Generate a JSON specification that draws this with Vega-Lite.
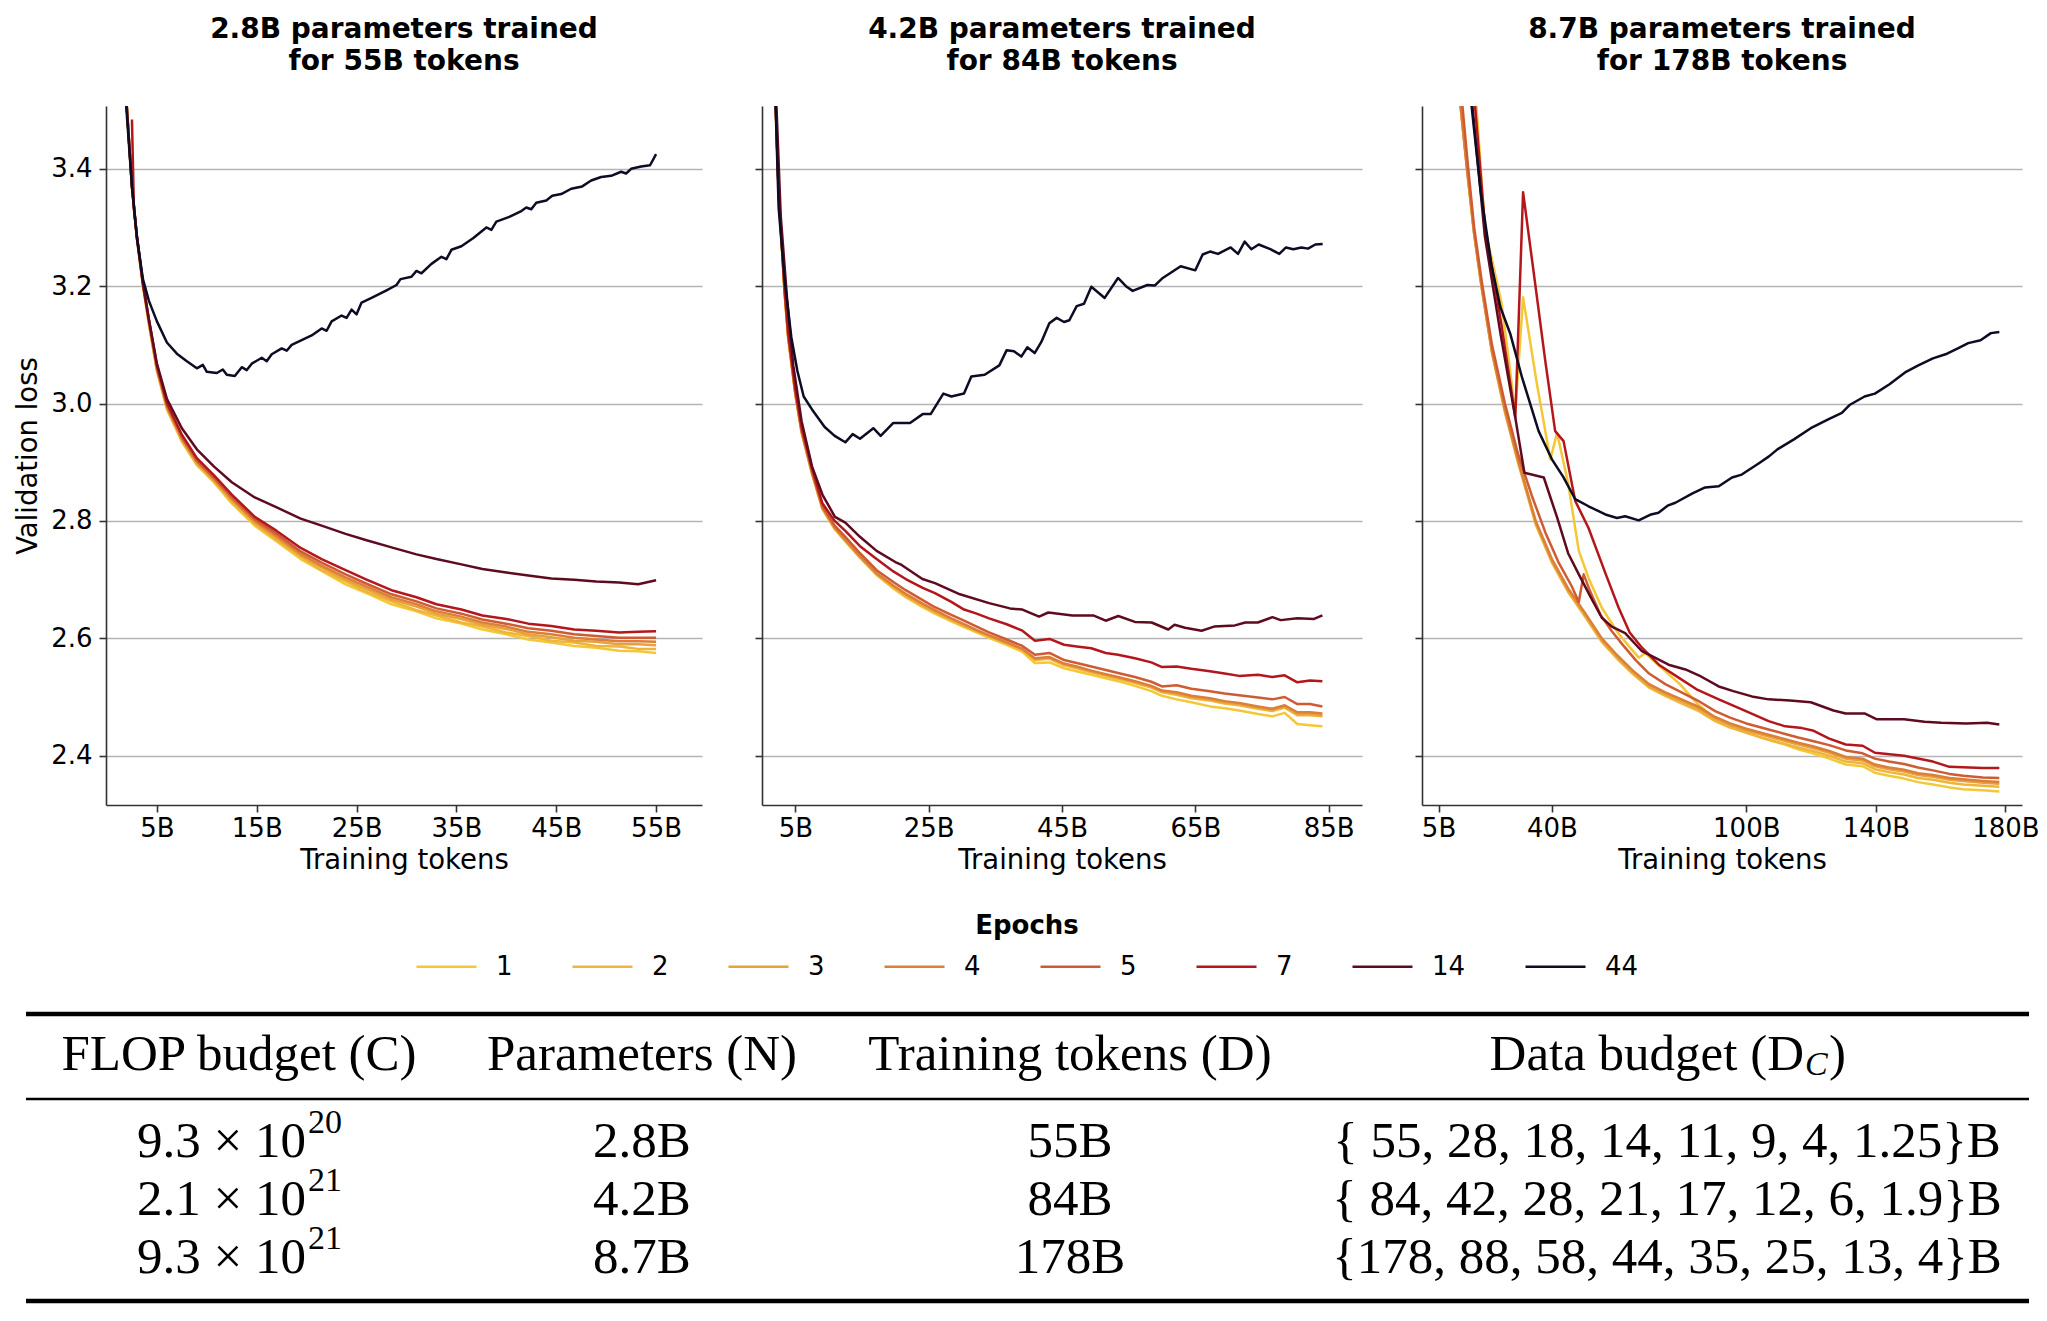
{
"$schema": "https://vega.github.io/schema/vega-lite/v6.json",
"background": "white",
"padding": {"left": 14, "top": 16, "right": 10, "bottom": 6},
"config": {
 "font": "DejaVu Sans",
 "view": {"stroke": null},
 "axis": {"labelFontSize": 26, "titleFontSize": 27.5, "titleFontWeight": "normal", "labelColor": "#000000", "titleColor": "#000000", "domainColor": "#333333", "domainWidth": 1.6, "tickColor": "#333333", "tickWidth": 1.6, "tickSize": 7, "labelPadding": 7, "titlePadding": 8, "gridColor": "#b4b4b4", "gridWidth": 1.3},
 "axisX": {"grid": false, "labelPadding": 3, "titlePadding": 5},
 "axisY": {"grid": true},
 "title": {"fontSize": 28, "fontWeight": "bold", "lineHeight": 32, "offset": 30, "frame": "group", "anchor": "middle", "color": "#000000"},
 "legend": {"orient": "bottom", "direction": "horizontal", "titleAnchor": "middle", "titleFontSize": 26, "titleFontWeight": "bold", "titleColor": "#000000", "titlePadding": -4, "labelFontSize": 26, "labelColor": "#000000", "symbolType": "stroke", "symbolSize": 3600, "symbolStrokeWidth": 2.5, "labelOffset": 18, "columnPadding": 54, "offset": 39, "layout": {"bottom": {"anchor": "middle"}}}
},
"datasets": {
"p1": [
{"epochs":"1","tokens":1.7,"loss":3.58},{"epochs":"1","tokens":2.5,"loss":3.37},{"epochs":"1","tokens":3.0,"loss":3.28},{"epochs":"1","tokens":3.6,"loss":3.2},{"epochs":"1","tokens":4.2,"loss":3.135},{"epochs":"1","tokens":5.0,"loss":3.055},{"epochs":"1","tokens":6.0,"loss":2.99},{"epochs":"1","tokens":7.5,"loss":2.935},{"epochs":"1","tokens":9.0,"loss":2.895},{"epochs":"1","tokens":10.7,"loss":2.866},{"epochs":"1","tokens":12.5,"loss":2.83},{"epochs":"1","tokens":14.8,"loss":2.792},{"epochs":"1","tokens":17.0,"loss":2.765},{"epochs":"1","tokens":19.4,"loss":2.735},{"epochs":"1","tokens":21.5,"loss":2.715},{"epochs":"1","tokens":23.9,"loss":2.692},{"epochs":"1","tokens":26.0,"loss":2.677},{"epochs":"1","tokens":28.5,"loss":2.658},{"epochs":"1","tokens":31.0,"loss":2.646},{"epochs":"1","tokens":33.0,"loss":2.634},{"epochs":"1","tokens":35.5,"loss":2.625},{"epochs":"1","tokens":37.6,"loss":2.615},{"epochs":"1","tokens":40.0,"loss":2.607},{"epochs":"1","tokens":42.2,"loss":2.598},{"epochs":"1","tokens":44.5,"loss":2.593},{"epochs":"1","tokens":46.8,"loss":2.587},{"epochs":"1","tokens":49.0,"loss":2.584},{"epochs":"1","tokens":51.3,"loss":2.579},{"epochs":"1","tokens":53.2,"loss":2.578},{"epochs":"1","tokens":55.0,"loss":2.575},
{"epochs":"2","tokens":1.7,"loss":3.58},{"epochs":"2","tokens":2.5,"loss":3.37},{"epochs":"2","tokens":3.0,"loss":3.281},{"epochs":"2","tokens":3.6,"loss":3.201},{"epochs":"2","tokens":4.2,"loss":3.136},{"epochs":"2","tokens":5.0,"loss":3.057},{"epochs":"2","tokens":6.0,"loss":2.992},{"epochs":"2","tokens":7.5,"loss":2.937},{"epochs":"2","tokens":9.0,"loss":2.897},{"epochs":"2","tokens":10.7,"loss":2.868},{"epochs":"2","tokens":12.5,"loss":2.833},{"epochs":"2","tokens":14.8,"loss":2.795},{"epochs":"2","tokens":17.0,"loss":2.767},{"epochs":"2","tokens":19.4,"loss":2.739},{"epochs":"2","tokens":21.5,"loss":2.716},{"epochs":"2","tokens":23.9,"loss":2.697},{"epochs":"2","tokens":26.0,"loss":2.679},{"epochs":"2","tokens":28.5,"loss":2.663},{"epochs":"2","tokens":31.0,"loss":2.648},{"epochs":"2","tokens":33.0,"loss":2.639},{"epochs":"2","tokens":35.5,"loss":2.627},{"epochs":"2","tokens":37.6,"loss":2.62},{"epochs":"2","tokens":40.0,"loss":2.61},{"epochs":"2","tokens":42.2,"loss":2.604},{"epochs":"2","tokens":44.5,"loss":2.596},{"epochs":"2","tokens":46.8,"loss":2.593},{"epochs":"2","tokens":49.0,"loss":2.587},{"epochs":"2","tokens":51.3,"loss":2.586},{"epochs":"2","tokens":53.2,"loss":2.582},{"epochs":"2","tokens":55.0,"loss":2.582},
{"epochs":"3","tokens":1.7,"loss":3.58},{"epochs":"3","tokens":2.5,"loss":3.37},{"epochs":"3","tokens":3.0,"loss":3.282},{"epochs":"3","tokens":3.6,"loss":3.202},{"epochs":"3","tokens":4.2,"loss":3.138},{"epochs":"3","tokens":5.0,"loss":3.058},{"epochs":"3","tokens":6.0,"loss":2.994},{"epochs":"3","tokens":7.5,"loss":2.939},{"epochs":"3","tokens":9.0,"loss":2.899},{"epochs":"3","tokens":10.7,"loss":2.87},{"epochs":"3","tokens":12.5,"loss":2.836},{"epochs":"3","tokens":14.8,"loss":2.797},{"epochs":"3","tokens":17.0,"loss":2.771},{"epochs":"3","tokens":19.4,"loss":2.741},{"epochs":"3","tokens":21.5,"loss":2.721},{"epochs":"3","tokens":23.9,"loss":2.7},{"epochs":"3","tokens":26.0,"loss":2.684},{"epochs":"3","tokens":28.5,"loss":2.666},{"epochs":"3","tokens":31.0,"loss":2.654},{"epochs":"3","tokens":33.0,"loss":2.642},{"epochs":"3","tokens":35.5,"loss":2.633},{"epochs":"3","tokens":37.6,"loss":2.623},{"epochs":"3","tokens":40.0,"loss":2.616},{"epochs":"3","tokens":42.2,"loss":2.607},{"epochs":"3","tokens":44.5,"loss":2.602},{"epochs":"3","tokens":46.8,"loss":2.596},{"epochs":"3","tokens":49.0,"loss":2.594},{"epochs":"3","tokens":51.3,"loss":2.59},{"epochs":"3","tokens":53.2,"loss":2.59},{"epochs":"3","tokens":55.0,"loss":2.588},
{"epochs":"4","tokens":1.7,"loss":3.58},{"epochs":"4","tokens":2.5,"loss":3.37},{"epochs":"4","tokens":3.0,"loss":3.282},{"epochs":"4","tokens":3.6,"loss":3.203},{"epochs":"4","tokens":4.2,"loss":3.139},{"epochs":"4","tokens":5.0,"loss":3.06},{"epochs":"4","tokens":6.0,"loss":2.995},{"epochs":"4","tokens":7.5,"loss":2.941},{"epochs":"4","tokens":9.0,"loss":2.901},{"epochs":"4","tokens":10.7,"loss":2.872},{"epochs":"4","tokens":12.5,"loss":2.838},{"epochs":"4","tokens":14.8,"loss":2.8},{"epochs":"4","tokens":17.0,"loss":2.774},{"epochs":"4","tokens":19.4,"loss":2.744},{"epochs":"4","tokens":21.5,"loss":2.724},{"epochs":"4","tokens":23.9,"loss":2.704},{"epochs":"4","tokens":26.0,"loss":2.688},{"epochs":"4","tokens":28.5,"loss":2.67},{"epochs":"4","tokens":31.0,"loss":2.658},{"epochs":"4","tokens":33.0,"loss":2.646},{"epochs":"4","tokens":35.5,"loss":2.637},{"epochs":"4","tokens":37.6,"loss":2.627},{"epochs":"4","tokens":40.0,"loss":2.62},{"epochs":"4","tokens":42.2,"loss":2.611},{"epochs":"4","tokens":44.5,"loss":2.607},{"epochs":"4","tokens":46.8,"loss":2.601},{"epochs":"4","tokens":49.0,"loss":2.598},{"epochs":"4","tokens":51.3,"loss":2.595},{"epochs":"4","tokens":53.2,"loss":2.595},{"epochs":"4","tokens":55.0,"loss":2.594},
{"epochs":"5","tokens":1.7,"loss":3.58},{"epochs":"5","tokens":2.5,"loss":3.37},{"epochs":"5","tokens":3.0,"loss":3.283},{"epochs":"5","tokens":3.6,"loss":3.204},{"epochs":"5","tokens":4.2,"loss":3.141},{"epochs":"5","tokens":5.0,"loss":3.062},{"epochs":"5","tokens":6.0,"loss":2.998},{"epochs":"5","tokens":7.5,"loss":2.943},{"epochs":"5","tokens":9.0,"loss":2.903},{"epochs":"5","tokens":10.7,"loss":2.874},{"epochs":"5","tokens":12.5,"loss":2.841},{"epochs":"5","tokens":14.8,"loss":2.803},{"epochs":"5","tokens":17.0,"loss":2.778},{"epochs":"5","tokens":19.4,"loss":2.748},{"epochs":"5","tokens":21.5,"loss":2.729},{"epochs":"5","tokens":23.9,"loss":2.709},{"epochs":"5","tokens":26.0,"loss":2.693},{"epochs":"5","tokens":28.5,"loss":2.675},{"epochs":"5","tokens":31.0,"loss":2.663},{"epochs":"5","tokens":33.0,"loss":2.651},{"epochs":"5","tokens":35.5,"loss":2.642},{"epochs":"5","tokens":37.6,"loss":2.632},{"epochs":"5","tokens":40.0,"loss":2.625},{"epochs":"5","tokens":42.2,"loss":2.617},{"epochs":"5","tokens":44.5,"loss":2.613},{"epochs":"5","tokens":46.8,"loss":2.607},{"epochs":"5","tokens":49.0,"loss":2.604},{"epochs":"5","tokens":51.3,"loss":2.601},{"epochs":"5","tokens":53.2,"loss":2.601},{"epochs":"5","tokens":55.0,"loss":2.601},
{"epochs":"7","tokens":2.5,"loss":3.484},{"epochs":"7","tokens":2.7,"loss":3.33},{"epochs":"7","tokens":3.0,"loss":3.285},{"epochs":"7","tokens":3.6,"loss":3.206},{"epochs":"7","tokens":4.2,"loss":3.143},{"epochs":"7","tokens":5.0,"loss":3.065},{"epochs":"7","tokens":6.0,"loss":3.001},{"epochs":"7","tokens":7.5,"loss":2.947},{"epochs":"7","tokens":9.0,"loss":2.907},{"epochs":"7","tokens":10.7,"loss":2.878},{"epochs":"7","tokens":12.5,"loss":2.845},{"epochs":"7","tokens":14.8,"loss":2.807},{"epochs":"7","tokens":17.0,"loss":2.783},{"epochs":"7","tokens":19.4,"loss":2.754},{"epochs":"7","tokens":21.5,"loss":2.735},{"epochs":"7","tokens":23.9,"loss":2.716},{"epochs":"7","tokens":26.0,"loss":2.7},{"epochs":"7","tokens":28.5,"loss":2.682},{"epochs":"7","tokens":31.0,"loss":2.67},{"epochs":"7","tokens":33.0,"loss":2.658},{"epochs":"7","tokens":35.5,"loss":2.649},{"epochs":"7","tokens":37.6,"loss":2.639},{"epochs":"7","tokens":40.0,"loss":2.633},{"epochs":"7","tokens":42.2,"loss":2.625},{"epochs":"7","tokens":44.5,"loss":2.621},{"epochs":"7","tokens":46.8,"loss":2.615},{"epochs":"7","tokens":49.0,"loss":2.613},{"epochs":"7","tokens":51.3,"loss":2.61},{"epochs":"7","tokens":53.2,"loss":2.611},{"epochs":"7","tokens":55.0,"loss":2.612},
{"epochs":"14","tokens":1.7,"loss":3.58},{"epochs":"14","tokens":2.5,"loss":3.37},{"epochs":"14","tokens":3.0,"loss":3.285},{"epochs":"14","tokens":3.6,"loss":3.205},{"epochs":"14","tokens":4.2,"loss":3.143},{"epochs":"14","tokens":5.0,"loss":3.068},{"epochs":"14","tokens":6.0,"loss":3.008},{"epochs":"14","tokens":7.5,"loss":2.958},{"epochs":"14","tokens":9.0,"loss":2.922},{"epochs":"14","tokens":10.7,"loss":2.893},{"epochs":"14","tokens":12.5,"loss":2.866},{"epochs":"14","tokens":14.8,"loss":2.84},{"epochs":"14","tokens":17.0,"loss":2.823},{"epochs":"14","tokens":19.4,"loss":2.804},{"epochs":"14","tokens":21.5,"loss":2.792},{"epochs":"14","tokens":23.9,"loss":2.778},{"epochs":"14","tokens":26.0,"loss":2.767},{"epochs":"14","tokens":28.5,"loss":2.755},{"epochs":"14","tokens":31.0,"loss":2.743},{"epochs":"14","tokens":33.0,"loss":2.735},{"epochs":"14","tokens":35.5,"loss":2.726},{"epochs":"14","tokens":37.6,"loss":2.718},{"epochs":"14","tokens":40.0,"loss":2.712},{"epochs":"14","tokens":42.2,"loss":2.707},{"epochs":"14","tokens":44.5,"loss":2.702},{"epochs":"14","tokens":46.8,"loss":2.7},{"epochs":"14","tokens":49.0,"loss":2.697},{"epochs":"14","tokens":51.3,"loss":2.695},{"epochs":"14","tokens":53.2,"loss":2.692},{"epochs":"14","tokens":55.0,"loss":2.699},
{"epochs":"44","tokens":1.7,"loss":3.56},{"epochs":"44","tokens":2.5,"loss":3.37},{"epochs":"44","tokens":3.0,"loss":3.282},{"epochs":"44","tokens":3.6,"loss":3.212},{"epochs":"44","tokens":4.2,"loss":3.175},{"epochs":"44","tokens":5.0,"loss":3.14},{"epochs":"44","tokens":6.0,"loss":3.104},{"epochs":"44","tokens":7.0,"loss":3.085},{"epochs":"44","tokens":8.0,"loss":3.072},{"epochs":"44","tokens":9.0,"loss":3.06},{"epochs":"44","tokens":9.6,"loss":3.066},{"epochs":"44","tokens":10.0,"loss":3.054},{"epochs":"44","tokens":11.0,"loss":3.052},{"epochs":"44","tokens":11.6,"loss":3.058},{"epochs":"44","tokens":12.0,"loss":3.049},{"epochs":"44","tokens":12.8,"loss":3.047},{"epochs":"44","tokens":13.5,"loss":3.062},{"epochs":"44","tokens":14.0,"loss":3.057},{"epochs":"44","tokens":14.5,"loss":3.068},{"epochs":"44","tokens":15.5,"loss":3.078},{"epochs":"44","tokens":16.0,"loss":3.072},{"epochs":"44","tokens":16.5,"loss":3.084},{"epochs":"44","tokens":17.5,"loss":3.094},{"epochs":"44","tokens":18.0,"loss":3.09},{"epochs":"44","tokens":18.5,"loss":3.1},{"epochs":"44","tokens":19.5,"loss":3.108},{"epochs":"44","tokens":20.5,"loss":3.116},{"epochs":"44","tokens":21.5,"loss":3.128},{"epochs":"44","tokens":22.0,"loss":3.124},{"epochs":"44","tokens":22.5,"loss":3.14},{"epochs":"44","tokens":23.5,"loss":3.15},{"epochs":"44","tokens":24.0,"loss":3.146},{"epochs":"44","tokens":24.5,"loss":3.16},{"epochs":"44","tokens":25.0,"loss":3.152},{"epochs":"44","tokens":25.5,"loss":3.172},{"epochs":"44","tokens":26.5,"loss":3.18},{"epochs":"44","tokens":28.0,"loss":3.193},{"epochs":"44","tokens":29.0,"loss":3.202},{"epochs":"44","tokens":29.4,"loss":3.212},{"epochs":"44","tokens":30.5,"loss":3.216},{"epochs":"44","tokens":31.0,"loss":3.226},{"epochs":"44","tokens":31.5,"loss":3.222},{"epochs":"44","tokens":32.5,"loss":3.238},{"epochs":"44","tokens":33.5,"loss":3.25},{"epochs":"44","tokens":34.0,"loss":3.246},{"epochs":"44","tokens":34.5,"loss":3.262},{"epochs":"44","tokens":35.5,"loss":3.268},{"epochs":"44","tokens":36.7,"loss":3.282},{"epochs":"44","tokens":38.0,"loss":3.3},{"epochs":"44","tokens":38.5,"loss":3.296},{"epochs":"44","tokens":39.0,"loss":3.31},{"epochs":"44","tokens":40.3,"loss":3.318},{"epochs":"44","tokens":41.5,"loss":3.328},{"epochs":"44","tokens":42.0,"loss":3.334},{"epochs":"44","tokens":42.5,"loss":3.331},{"epochs":"44","tokens":43.0,"loss":3.342},{"epochs":"44","tokens":44.0,"loss":3.346},{"epochs":"44","tokens":44.6,"loss":3.354},{"epochs":"44","tokens":45.5,"loss":3.357},{"epochs":"44","tokens":46.5,"loss":3.366},{"epochs":"44","tokens":47.6,"loss":3.37},{"epochs":"44","tokens":48.5,"loss":3.38},{"epochs":"44","tokens":49.5,"loss":3.386},{"epochs":"44","tokens":50.5,"loss":3.388},{"epochs":"44","tokens":51.5,"loss":3.395},{"epochs":"44","tokens":52.0,"loss":3.392},{"epochs":"44","tokens":52.5,"loss":3.4},{"epochs":"44","tokens":53.5,"loss":3.404},{"epochs":"44","tokens":54.4,"loss":3.406},{"epochs":"44","tokens":55.0,"loss":3.425}
],
"p2": [
{"epochs":"1","tokens":1.9,"loss":3.56},{"epochs":"1","tokens":2.5,"loss":3.355},{"epochs":"1","tokens":3.4,"loss":3.185},{"epochs":"1","tokens":3.94,"loss":3.11},{"epochs":"1","tokens":5.0,"loss":3.015},{"epochs":"1","tokens":5.94,"loss":2.95},{"epochs":"1","tokens":7.5,"loss":2.88},{"epochs":"1","tokens":9.06,"loss":2.82},{"epochs":"1","tokens":10.9,"loss":2.786},{"epochs":"1","tokens":12.5,"loss":2.765},{"epochs":"1","tokens":14.7,"loss":2.737},{"epochs":"1","tokens":17.19,"loss":2.708},{"epochs":"1","tokens":19.7,"loss":2.685},{"epochs":"1","tokens":21.56,"loss":2.67},{"epochs":"1","tokens":24.1,"loss":2.653},{"epochs":"1","tokens":25.94,"loss":2.642},{"epochs":"1","tokens":28.4,"loss":2.629},{"epochs":"1","tokens":30.31,"loss":2.619},{"epochs":"1","tokens":32.2,"loss":2.61},{"epochs":"1","tokens":34.06,"loss":2.601},{"epochs":"1","tokens":36.7,"loss":2.589},{"epochs":"1","tokens":39.06,"loss":2.577},{"epochs":"1","tokens":40.94,"loss":2.558},{"epochs":"1","tokens":43.13,"loss":2.559},{"epochs":"1","tokens":45.31,"loss":2.549},{"epochs":"1","tokens":47.2,"loss":2.544},{"epochs":"1","tokens":49.4,"loss":2.538},{"epochs":"1","tokens":51.56,"loss":2.532},{"epochs":"1","tokens":53.4,"loss":2.527},{"epochs":"1","tokens":55.94,"loss":2.519},{"epochs":"1","tokens":58.4,"loss":2.51},{"epochs":"1","tokens":60.0,"loss":2.502},{"epochs":"1","tokens":62.19,"loss":2.496},{"epochs":"1","tokens":64.4,"loss":2.491},{"epochs":"1","tokens":67.19,"loss":2.484},{"epochs":"1","tokens":69.4,"loss":2.481},{"epochs":"1","tokens":71.56,"loss":2.477},{"epochs":"1","tokens":74.4,"loss":2.471},{"epochs":"1","tokens":76.56,"loss":2.467},{"epochs":"1","tokens":78.4,"loss":2.473},{"epochs":"1","tokens":80.3,"loss":2.454},{"epochs":"1","tokens":82.2,"loss":2.452},{"epochs":"1","tokens":84.06,"loss":2.45},
{"epochs":"2","tokens":1.9,"loss":3.56},{"epochs":"2","tokens":2.5,"loss":3.358},{"epochs":"2","tokens":3.4,"loss":3.187},{"epochs":"2","tokens":3.94,"loss":3.111},{"epochs":"2","tokens":5.0,"loss":3.016},{"epochs":"2","tokens":5.94,"loss":2.951},{"epochs":"2","tokens":7.5,"loss":2.881},{"epochs":"2","tokens":9.06,"loss":2.821},{"epochs":"2","tokens":10.9,"loss":2.787},{"epochs":"2","tokens":12.5,"loss":2.766},{"epochs":"2","tokens":14.7,"loss":2.738},{"epochs":"2","tokens":17.19,"loss":2.709},{"epochs":"2","tokens":19.7,"loss":2.687},{"epochs":"2","tokens":21.56,"loss":2.672},{"epochs":"2","tokens":24.1,"loss":2.655},{"epochs":"2","tokens":25.94,"loss":2.644},{"epochs":"2","tokens":28.4,"loss":2.631},{"epochs":"2","tokens":30.31,"loss":2.621},{"epochs":"2","tokens":32.2,"loss":2.612},{"epochs":"2","tokens":34.06,"loss":2.603},{"epochs":"2","tokens":36.7,"loss":2.591},{"epochs":"2","tokens":39.06,"loss":2.58},{"epochs":"2","tokens":40.94,"loss":2.563},{"epochs":"2","tokens":43.13,"loss":2.565},{"epochs":"2","tokens":45.31,"loss":2.554},{"epochs":"2","tokens":47.2,"loss":2.549},{"epochs":"2","tokens":49.4,"loss":2.542},{"epochs":"2","tokens":51.56,"loss":2.536},{"epochs":"2","tokens":53.4,"loss":2.531},{"epochs":"2","tokens":55.94,"loss":2.524},{"epochs":"2","tokens":58.4,"loss":2.516},{"epochs":"2","tokens":60.0,"loss":2.508},{"epochs":"2","tokens":62.19,"loss":2.504},{"epochs":"2","tokens":64.4,"loss":2.498},{"epochs":"2","tokens":67.19,"loss":2.494},{"epochs":"2","tokens":69.4,"loss":2.489},{"epochs":"2","tokens":71.56,"loss":2.486},{"epochs":"2","tokens":74.4,"loss":2.48},{"epochs":"2","tokens":76.56,"loss":2.476},{"epochs":"2","tokens":78.4,"loss":2.482},{"epochs":"2","tokens":80.3,"loss":2.469},{"epochs":"2","tokens":82.2,"loss":2.469},{"epochs":"2","tokens":84.06,"loss":2.467},
{"epochs":"3","tokens":1.9,"loss":3.56},{"epochs":"3","tokens":2.5,"loss":3.359},{"epochs":"3","tokens":3.4,"loss":3.188},{"epochs":"3","tokens":3.94,"loss":3.112},{"epochs":"3","tokens":5.0,"loss":3.017},{"epochs":"3","tokens":5.94,"loss":2.952},{"epochs":"3","tokens":7.5,"loss":2.882},{"epochs":"3","tokens":9.06,"loss":2.822},{"epochs":"3","tokens":10.9,"loss":2.788},{"epochs":"3","tokens":12.5,"loss":2.767},{"epochs":"3","tokens":14.7,"loss":2.739},{"epochs":"3","tokens":17.19,"loss":2.71},{"epochs":"3","tokens":19.7,"loss":2.689},{"epochs":"3","tokens":21.56,"loss":2.674},{"epochs":"3","tokens":24.1,"loss":2.657},{"epochs":"3","tokens":25.94,"loss":2.646},{"epochs":"3","tokens":28.4,"loss":2.633},{"epochs":"3","tokens":30.31,"loss":2.623},{"epochs":"3","tokens":32.2,"loss":2.614},{"epochs":"3","tokens":34.06,"loss":2.605},{"epochs":"3","tokens":36.7,"loss":2.593},{"epochs":"3","tokens":39.06,"loss":2.582},{"epochs":"3","tokens":40.94,"loss":2.565},{"epochs":"3","tokens":43.13,"loss":2.567},{"epochs":"3","tokens":45.31,"loss":2.556},{"epochs":"3","tokens":47.2,"loss":2.551},{"epochs":"3","tokens":49.4,"loss":2.544},{"epochs":"3","tokens":51.56,"loss":2.538},{"epochs":"3","tokens":53.4,"loss":2.533},{"epochs":"3","tokens":55.94,"loss":2.526},{"epochs":"3","tokens":58.4,"loss":2.518},{"epochs":"3","tokens":60.0,"loss":2.51},{"epochs":"3","tokens":62.19,"loss":2.506},{"epochs":"3","tokens":64.4,"loss":2.5},{"epochs":"3","tokens":67.19,"loss":2.496},{"epochs":"3","tokens":69.4,"loss":2.491},{"epochs":"3","tokens":71.56,"loss":2.488},{"epochs":"3","tokens":74.4,"loss":2.482},{"epochs":"3","tokens":76.56,"loss":2.478},{"epochs":"3","tokens":78.4,"loss":2.484},{"epochs":"3","tokens":80.3,"loss":2.471},{"epochs":"3","tokens":82.2,"loss":2.471},{"epochs":"3","tokens":84.06,"loss":2.469},
{"epochs":"4","tokens":1.9,"loss":3.56},{"epochs":"4","tokens":2.5,"loss":3.36},{"epochs":"4","tokens":3.4,"loss":3.19},{"epochs":"4","tokens":3.94,"loss":3.114},{"epochs":"4","tokens":5.0,"loss":3.018},{"epochs":"4","tokens":5.94,"loss":2.953},{"epochs":"4","tokens":7.5,"loss":2.883},{"epochs":"4","tokens":9.06,"loss":2.823},{"epochs":"4","tokens":10.9,"loss":2.789},{"epochs":"4","tokens":12.5,"loss":2.768},{"epochs":"4","tokens":14.7,"loss":2.74},{"epochs":"4","tokens":17.19,"loss":2.711},{"epochs":"4","tokens":19.7,"loss":2.69},{"epochs":"4","tokens":21.56,"loss":2.676},{"epochs":"4","tokens":24.1,"loss":2.659},{"epochs":"4","tokens":25.94,"loss":2.648},{"epochs":"4","tokens":28.4,"loss":2.634},{"epochs":"4","tokens":30.31,"loss":2.624},{"epochs":"4","tokens":32.2,"loss":2.614},{"epochs":"4","tokens":34.06,"loss":2.605},{"epochs":"4","tokens":36.7,"loss":2.593},{"epochs":"4","tokens":39.06,"loss":2.582},{"epochs":"4","tokens":40.94,"loss":2.566},{"epochs":"4","tokens":43.13,"loss":2.568},{"epochs":"4","tokens":45.31,"loss":2.557},{"epochs":"4","tokens":47.2,"loss":2.552},{"epochs":"4","tokens":49.4,"loss":2.545},{"epochs":"4","tokens":51.56,"loss":2.539},{"epochs":"4","tokens":53.4,"loss":2.534},{"epochs":"4","tokens":55.94,"loss":2.527},{"epochs":"4","tokens":58.4,"loss":2.519},{"epochs":"4","tokens":60.0,"loss":2.511},{"epochs":"4","tokens":62.19,"loss":2.508},{"epochs":"4","tokens":64.4,"loss":2.502},{"epochs":"4","tokens":67.19,"loss":2.498},{"epochs":"4","tokens":69.4,"loss":2.493},{"epochs":"4","tokens":71.56,"loss":2.49},{"epochs":"4","tokens":74.4,"loss":2.484},{"epochs":"4","tokens":76.56,"loss":2.48},{"epochs":"4","tokens":78.4,"loss":2.486},{"epochs":"4","tokens":80.3,"loss":2.474},{"epochs":"4","tokens":82.2,"loss":2.474},{"epochs":"4","tokens":84.06,"loss":2.472},
{"epochs":"5","tokens":1.9,"loss":3.56},{"epochs":"5","tokens":2.5,"loss":3.36},{"epochs":"5","tokens":3.4,"loss":3.192},{"epochs":"5","tokens":3.94,"loss":3.115},{"epochs":"5","tokens":5.0,"loss":3.02},{"epochs":"5","tokens":5.94,"loss":2.955},{"epochs":"5","tokens":7.5,"loss":2.885},{"epochs":"5","tokens":9.06,"loss":2.825},{"epochs":"5","tokens":10.9,"loss":2.792},{"epochs":"5","tokens":12.5,"loss":2.773},{"epochs":"5","tokens":14.7,"loss":2.745},{"epochs":"5","tokens":17.19,"loss":2.716},{"epochs":"5","tokens":19.7,"loss":2.696},{"epochs":"5","tokens":21.56,"loss":2.682},{"epochs":"5","tokens":24.1,"loss":2.665},{"epochs":"5","tokens":25.94,"loss":2.653},{"epochs":"5","tokens":28.4,"loss":2.64},{"epochs":"5","tokens":30.31,"loss":2.63},{"epochs":"5","tokens":32.2,"loss":2.62},{"epochs":"5","tokens":34.06,"loss":2.61},{"epochs":"5","tokens":36.7,"loss":2.598},{"epochs":"5","tokens":39.06,"loss":2.587},{"epochs":"5","tokens":40.94,"loss":2.572},{"epochs":"5","tokens":43.13,"loss":2.575},{"epochs":"5","tokens":45.31,"loss":2.563},{"epochs":"5","tokens":47.2,"loss":2.558},{"epochs":"5","tokens":49.4,"loss":2.552},{"epochs":"5","tokens":51.56,"loss":2.546},{"epochs":"5","tokens":53.4,"loss":2.541},{"epochs":"5","tokens":55.94,"loss":2.534},{"epochs":"5","tokens":58.4,"loss":2.526},{"epochs":"5","tokens":60.0,"loss":2.518},{"epochs":"5","tokens":62.19,"loss":2.52},{"epochs":"5","tokens":64.4,"loss":2.514},{"epochs":"5","tokens":67.19,"loss":2.51},{"epochs":"5","tokens":69.4,"loss":2.506},{"epochs":"5","tokens":71.56,"loss":2.503},{"epochs":"5","tokens":74.4,"loss":2.499},{"epochs":"5","tokens":76.56,"loss":2.496},{"epochs":"5","tokens":78.4,"loss":2.5},{"epochs":"5","tokens":80.3,"loss":2.488},{"epochs":"5","tokens":82.2,"loss":2.488},{"epochs":"5","tokens":84.06,"loss":2.484},
{"epochs":"7","tokens":1.9,"loss":3.56},{"epochs":"7","tokens":2.5,"loss":3.36},{"epochs":"7","tokens":3.4,"loss":3.195},{"epochs":"7","tokens":3.94,"loss":3.12},{"epochs":"7","tokens":5.0,"loss":3.025},{"epochs":"7","tokens":5.94,"loss":2.96},{"epochs":"7","tokens":7.5,"loss":2.89},{"epochs":"7","tokens":9.06,"loss":2.83},{"epochs":"7","tokens":10.9,"loss":2.8},{"epochs":"7","tokens":12.5,"loss":2.783},{"epochs":"7","tokens":14.7,"loss":2.757},{"epochs":"7","tokens":17.19,"loss":2.735},{"epochs":"7","tokens":19.7,"loss":2.714},{"epochs":"7","tokens":21.56,"loss":2.701},{"epochs":"7","tokens":24.1,"loss":2.686},{"epochs":"7","tokens":25.94,"loss":2.677},{"epochs":"7","tokens":28.4,"loss":2.662},{"epochs":"7","tokens":30.31,"loss":2.649},{"epochs":"7","tokens":32.2,"loss":2.642},{"epochs":"7","tokens":34.06,"loss":2.634},{"epochs":"7","tokens":36.7,"loss":2.624},{"epochs":"7","tokens":39.06,"loss":2.613},{"epochs":"7","tokens":40.94,"loss":2.596},{"epochs":"7","tokens":43.13,"loss":2.599},{"epochs":"7","tokens":45.31,"loss":2.589},{"epochs":"7","tokens":47.2,"loss":2.586},{"epochs":"7","tokens":49.4,"loss":2.583},{"epochs":"7","tokens":51.56,"loss":2.575},{"epochs":"7","tokens":53.4,"loss":2.572},{"epochs":"7","tokens":55.94,"loss":2.566},{"epochs":"7","tokens":58.4,"loss":2.559},{"epochs":"7","tokens":60.0,"loss":2.551},{"epochs":"7","tokens":62.19,"loss":2.552},{"epochs":"7","tokens":64.4,"loss":2.548},{"epochs":"7","tokens":67.19,"loss":2.544},{"epochs":"7","tokens":69.4,"loss":2.54},{"epochs":"7","tokens":71.56,"loss":2.536},{"epochs":"7","tokens":74.4,"loss":2.538},{"epochs":"7","tokens":76.56,"loss":2.534},{"epochs":"7","tokens":78.4,"loss":2.537},{"epochs":"7","tokens":80.3,"loss":2.525},{"epochs":"7","tokens":82.2,"loss":2.528},{"epochs":"7","tokens":84.06,"loss":2.527},
{"epochs":"14","tokens":1.9,"loss":3.56},{"epochs":"14","tokens":2.19,"loss":3.5},{"epochs":"14","tokens":2.81,"loss":3.32},{"epochs":"14","tokens":3.75,"loss":3.18},{"epochs":"14","tokens":4.69,"loss":3.065},{"epochs":"14","tokens":5.94,"loss":2.97},{"epochs":"14","tokens":7.5,"loss":2.893},{"epochs":"14","tokens":9.06,"loss":2.845},{"epochs":"14","tokens":10.94,"loss":2.807},{"epochs":"14","tokens":12.5,"loss":2.797},{"epochs":"14","tokens":14.69,"loss":2.773},{"epochs":"14","tokens":17.19,"loss":2.749},{"epochs":"14","tokens":20.0,"loss":2.73},{"epochs":"14","tokens":20.94,"loss":2.725},{"epochs":"14","tokens":24.06,"loss":2.701},{"epochs":"14","tokens":25.94,"loss":2.694},{"epochs":"14","tokens":29.69,"loss":2.675},{"epochs":"14","tokens":34.06,"loss":2.66},{"epochs":"14","tokens":37.19,"loss":2.651},{"epochs":"14","tokens":39.06,"loss":2.649},{"epochs":"14","tokens":41.56,"loss":2.637},{"epochs":"14","tokens":42.94,"loss":2.644},{"epochs":"14","tokens":46.56,"loss":2.639},{"epochs":"14","tokens":49.69,"loss":2.639},{"epochs":"14","tokens":51.56,"loss":2.63},{"epochs":"14","tokens":53.44,"loss":2.638},{"epochs":"14","tokens":55.94,"loss":2.628},{"epochs":"14","tokens":58.44,"loss":2.627},{"epochs":"14","tokens":60.94,"loss":2.615},{"epochs":"14","tokens":61.88,"loss":2.623},{"epochs":"14","tokens":63.44,"loss":2.618},{"epochs":"14","tokens":65.94,"loss":2.613},{"epochs":"14","tokens":67.81,"loss":2.62},{"epochs":"14","tokens":70.94,"loss":2.622},{"epochs":"14","tokens":72.5,"loss":2.627},{"epochs":"14","tokens":74.38,"loss":2.627},{"epochs":"14","tokens":76.56,"loss":2.636},{"epochs":"14","tokens":77.81,"loss":2.631},{"epochs":"14","tokens":80.31,"loss":2.634},{"epochs":"14","tokens":82.81,"loss":2.633},{"epochs":"14","tokens":84.06,"loss":2.639},
{"epochs":"44","tokens":1.9,"loss":3.56},{"epochs":"44","tokens":2.5,"loss":3.333},{"epochs":"44","tokens":3.4,"loss":3.21},{"epochs":"44","tokens":4.4,"loss":3.113},{"epochs":"44","tokens":5.3,"loss":3.056},{"epochs":"44","tokens":6.25,"loss":3.012},{"epochs":"44","tokens":7.5,"loss":2.99},{"epochs":"44","tokens":9.4,"loss":2.96},{"epochs":"44","tokens":10.9,"loss":2.945},{"epochs":"44","tokens":12.5,"loss":2.934},{"epochs":"44","tokens":13.6,"loss":2.948},{"epochs":"44","tokens":14.7,"loss":2.94},{"epochs":"44","tokens":16.7,"loss":2.958},{"epochs":"44","tokens":17.8,"loss":2.945},{"epochs":"44","tokens":19.7,"loss":2.967},{"epochs":"44","tokens":22.2,"loss":2.967},{"epochs":"44","tokens":24.1,"loss":2.982},{"epochs":"44","tokens":25.3,"loss":2.982},{"epochs":"44","tokens":27.2,"loss":3.017},{"epochs":"44","tokens":28.4,"loss":3.012},{"epochs":"44","tokens":30.3,"loss":3.017},{"epochs":"44","tokens":31.4,"loss":3.046},{"epochs":"44","tokens":33.4,"loss":3.049},{"epochs":"44","tokens":35.6,"loss":3.065},{"epochs":"44","tokens":36.7,"loss":3.091},{"epochs":"44","tokens":37.8,"loss":3.089},{"epochs":"44","tokens":38.9,"loss":3.08},{"epochs":"44","tokens":39.8,"loss":3.096},{"epochs":"44","tokens":40.9,"loss":3.086},{"epochs":"44","tokens":41.9,"loss":3.105},{"epochs":"44","tokens":43.1,"loss":3.137},{"epochs":"44","tokens":44.2,"loss":3.146},{"epochs":"44","tokens":45.3,"loss":3.139},{"epochs":"44","tokens":46.1,"loss":3.142},{"epochs":"44","tokens":47.2,"loss":3.166},{"epochs":"44","tokens":48.3,"loss":3.17},{"epochs":"44","tokens":49.4,"loss":3.199},{"epochs":"44","tokens":51.4,"loss":3.18},{"epochs":"44","tokens":53.4,"loss":3.214},{"epochs":"44","tokens":54.7,"loss":3.199},{"epochs":"44","tokens":55.6,"loss":3.192},{"epochs":"44","tokens":57.8,"loss":3.202},{"epochs":"44","tokens":58.9,"loss":3.201},{"epochs":"44","tokens":60.0,"loss":3.213},{"epochs":"44","tokens":62.8,"loss":3.234},{"epochs":"44","tokens":65.0,"loss":3.227},{"epochs":"44","tokens":66.1,"loss":3.254},{"epochs":"44","tokens":67.2,"loss":3.259},{"epochs":"44","tokens":68.4,"loss":3.255},{"epochs":"44","tokens":70.3,"loss":3.266},{"epochs":"44","tokens":71.4,"loss":3.255},{"epochs":"44","tokens":72.4,"loss":3.276},{"epochs":"44","tokens":73.4,"loss":3.263},{"epochs":"44","tokens":74.5,"loss":3.271},{"epochs":"44","tokens":76.25,"loss":3.263},{"epochs":"44","tokens":77.6,"loss":3.255},{"epochs":"44","tokens":78.6,"loss":3.266},{"epochs":"44","tokens":79.7,"loss":3.263},{"epochs":"44","tokens":80.9,"loss":3.266},{"epochs":"44","tokens":81.9,"loss":3.264},{"epochs":"44","tokens":83.0,"loss":3.271},{"epochs":"44","tokens":84.1,"loss":3.272}
],
"p3": [
{"epochs":"1","tokens":15.8,"loss":3.58},{"epochs":"1","tokens":19.3,"loss":3.3},{"epochs":"1","tokens":24.5,"loss":3.17},{"epochs":"1","tokens":28.7,"loss":2.985},{"epochs":"1","tokens":31.1,"loss":3.181},{"epochs":"1","tokens":35.3,"loss":3.036},{"epochs":"1","tokens":39.5,"loss":2.905},{"epochs":"1","tokens":41.6,"loss":2.95},{"epochs":"1","tokens":45.0,"loss":2.864},{"epochs":"1","tokens":48.3,"loss":2.749},{"epochs":"1","tokens":51.5,"loss":2.7},{"epochs":"1","tokens":55.4,"loss":2.652},{"epochs":"1","tokens":60.3,"loss":2.61},{"epochs":"1","tokens":64.0,"loss":2.585},{"epochs":"1","tokens":66.8,"loss":2.567},{"epochs":"1","tokens":68.8,"loss":2.575},{"epochs":"1","tokens":73.1,"loss":2.553},{"epochs":"1","tokens":79.5,"loss":2.522},{"epochs":"1","tokens":85.0,"loss":2.488},{"epochs":"1","tokens":90.4,"loss":2.463},{"epochs":"1","tokens":95.0,"loss":2.45},{"epochs":"1","tokens":100.0,"loss":2.44},{"epochs":"1","tokens":104.0,"loss":2.432},{"epochs":"1","tokens":108.0,"loss":2.425},{"epochs":"1","tokens":112.0,"loss":2.419},{"epochs":"1","tokens":116.0,"loss":2.411},{"epochs":"1","tokens":120.5,"loss":2.404},{"epochs":"1","tokens":125.6,"loss":2.395},{"epochs":"1","tokens":130.7,"loss":2.385},{"epochs":"1","tokens":135.9,"loss":2.382},{"epochs":"1","tokens":139.7,"loss":2.371},{"epochs":"1","tokens":144.0,"loss":2.366},{"epochs":"1","tokens":148.7,"loss":2.361},{"epochs":"1","tokens":153.0,"loss":2.355},{"epochs":"1","tokens":157.6,"loss":2.351},{"epochs":"1","tokens":162.7,"loss":2.346},{"epochs":"1","tokens":167.0,"loss":2.343},{"epochs":"1","tokens":173.0,"loss":2.341},{"epochs":"1","tokens":178.1,"loss":2.339},
{"epochs":"2","tokens":11.0,"loss":3.55},{"epochs":"2","tokens":13.8,"loss":3.398},{"epochs":"2","tokens":16.0,"loss":3.288},{"epochs":"2","tokens":18.3,"loss":3.197},{"epochs":"2","tokens":21.5,"loss":3.086},{"epochs":"2","tokens":25.5,"loss":2.985},{"epochs":"2","tokens":29.5,"loss":2.9},{"epochs":"2","tokens":35.0,"loss":2.794},{"epochs":"2","tokens":40.0,"loss":2.729},{"epochs":"2","tokens":45.0,"loss":2.679},{"epochs":"2","tokens":50.0,"loss":2.639},{"epochs":"2","tokens":55.4,"loss":2.594},{"epochs":"2","tokens":60.0,"loss":2.566},{"epochs":"2","tokens":65.0,"loss":2.539},{"epochs":"2","tokens":70.0,"loss":2.516},{"epochs":"2","tokens":75.0,"loss":2.502},{"epochs":"2","tokens":80.0,"loss":2.489},{"epochs":"2","tokens":85.0,"loss":2.477},{"epochs":"2","tokens":90.4,"loss":2.459},{"epochs":"2","tokens":95.0,"loss":2.448},{"epochs":"2","tokens":100.0,"loss":2.439},{"epochs":"2","tokens":104.0,"loss":2.432},{"epochs":"2","tokens":108.0,"loss":2.426},{"epochs":"2","tokens":112.0,"loss":2.42},{"epochs":"2","tokens":116.0,"loss":2.414},{"epochs":"2","tokens":120.5,"loss":2.408},{"epochs":"2","tokens":125.6,"loss":2.4},{"epochs":"2","tokens":130.7,"loss":2.39},{"epochs":"2","tokens":135.9,"loss":2.387},{"epochs":"2","tokens":139.7,"loss":2.377},{"epochs":"2","tokens":144.0,"loss":2.372},{"epochs":"2","tokens":148.7,"loss":2.368},{"epochs":"2","tokens":153.0,"loss":2.362},{"epochs":"2","tokens":157.6,"loss":2.359},{"epochs":"2","tokens":162.7,"loss":2.354},{"epochs":"2","tokens":167.0,"loss":2.351},{"epochs":"2","tokens":173.0,"loss":2.349},{"epochs":"2","tokens":178.1,"loss":2.347},
{"epochs":"3","tokens":11.0,"loss":3.55},{"epochs":"3","tokens":13.8,"loss":3.4},{"epochs":"3","tokens":16.0,"loss":3.29},{"epochs":"3","tokens":18.3,"loss":3.199},{"epochs":"3","tokens":21.5,"loss":3.088},{"epochs":"3","tokens":25.5,"loss":2.988},{"epochs":"3","tokens":29.5,"loss":2.903},{"epochs":"3","tokens":35.0,"loss":2.797},{"epochs":"3","tokens":40.0,"loss":2.732},{"epochs":"3","tokens":45.0,"loss":2.682},{"epochs":"3","tokens":50.0,"loss":2.642},{"epochs":"3","tokens":55.4,"loss":2.597},{"epochs":"3","tokens":60.0,"loss":2.569},{"epochs":"3","tokens":65.0,"loss":2.542},{"epochs":"3","tokens":70.0,"loss":2.519},{"epochs":"3","tokens":75.0,"loss":2.505},{"epochs":"3","tokens":80.0,"loss":2.493},{"epochs":"3","tokens":85.0,"loss":2.481},{"epochs":"3","tokens":90.4,"loss":2.463},{"epochs":"3","tokens":95.0,"loss":2.452},{"epochs":"3","tokens":100.0,"loss":2.443},{"epochs":"3","tokens":104.0,"loss":2.437},{"epochs":"3","tokens":108.0,"loss":2.431},{"epochs":"3","tokens":112.0,"loss":2.425},{"epochs":"3","tokens":116.0,"loss":2.419},{"epochs":"3","tokens":120.5,"loss":2.413},{"epochs":"3","tokens":125.6,"loss":2.405},{"epochs":"3","tokens":130.7,"loss":2.395},{"epochs":"3","tokens":135.9,"loss":2.392},{"epochs":"3","tokens":139.7,"loss":2.382},{"epochs":"3","tokens":144.0,"loss":2.377},{"epochs":"3","tokens":148.7,"loss":2.373},{"epochs":"3","tokens":153.0,"loss":2.367},{"epochs":"3","tokens":157.6,"loss":2.364},{"epochs":"3","tokens":162.7,"loss":2.359},{"epochs":"3","tokens":167.0,"loss":2.357},{"epochs":"3","tokens":173.0,"loss":2.354},{"epochs":"3","tokens":178.1,"loss":2.352},
{"epochs":"4","tokens":11.0,"loss":3.55},{"epochs":"4","tokens":13.8,"loss":3.4},{"epochs":"4","tokens":16.0,"loss":3.29},{"epochs":"4","tokens":18.3,"loss":3.2},{"epochs":"4","tokens":21.5,"loss":3.09},{"epochs":"4","tokens":25.5,"loss":2.99},{"epochs":"4","tokens":29.5,"loss":2.905},{"epochs":"4","tokens":35.0,"loss":2.8},{"epochs":"4","tokens":40.0,"loss":2.735},{"epochs":"4","tokens":45.0,"loss":2.685},{"epochs":"4","tokens":50.0,"loss":2.645},{"epochs":"4","tokens":55.4,"loss":2.6},{"epochs":"4","tokens":60.0,"loss":2.572},{"epochs":"4","tokens":65.0,"loss":2.545},{"epochs":"4","tokens":70.0,"loss":2.522},{"epochs":"4","tokens":75.0,"loss":2.508},{"epochs":"4","tokens":80.0,"loss":2.496},{"epochs":"4","tokens":85.0,"loss":2.484},{"epochs":"4","tokens":90.4,"loss":2.466},{"epochs":"4","tokens":95.0,"loss":2.455},{"epochs":"4","tokens":100.0,"loss":2.446},{"epochs":"4","tokens":104.0,"loss":2.44},{"epochs":"4","tokens":108.0,"loss":2.434},{"epochs":"4","tokens":112.0,"loss":2.428},{"epochs":"4","tokens":116.0,"loss":2.422},{"epochs":"4","tokens":120.5,"loss":2.416},{"epochs":"4","tokens":125.6,"loss":2.408},{"epochs":"4","tokens":130.7,"loss":2.398},{"epochs":"4","tokens":135.9,"loss":2.395},{"epochs":"4","tokens":139.7,"loss":2.385},{"epochs":"4","tokens":144.0,"loss":2.38},{"epochs":"4","tokens":148.7,"loss":2.376},{"epochs":"4","tokens":153.0,"loss":2.37},{"epochs":"4","tokens":157.6,"loss":2.367},{"epochs":"4","tokens":162.7,"loss":2.362},{"epochs":"4","tokens":167.0,"loss":2.36},{"epochs":"4","tokens":173.0,"loss":2.357},{"epochs":"4","tokens":178.1,"loss":2.355},
{"epochs":"5","tokens":11.5,"loss":3.56},{"epochs":"5","tokens":14.0,"loss":3.41},{"epochs":"5","tokens":16.0,"loss":3.3},{"epochs":"5","tokens":18.3,"loss":3.21},{"epochs":"5","tokens":21.5,"loss":3.1},{"epochs":"5","tokens":25.5,"loss":3.0},{"epochs":"5","tokens":29.5,"loss":2.915},{"epochs":"5","tokens":33.8,"loss":2.843},{"epochs":"5","tokens":38.0,"loss":2.78},{"epochs":"5","tokens":42.0,"loss":2.73},{"epochs":"5","tokens":46.0,"loss":2.69},{"epochs":"5","tokens":48.3,"loss":2.662},{"epochs":"5","tokens":49.8,"loss":2.709},{"epochs":"5","tokens":51.8,"loss":2.68},{"epochs":"5","tokens":55.0,"loss":2.64},{"epochs":"5","tokens":58.5,"loss":2.612},{"epochs":"5","tokens":62.0,"loss":2.588},{"epochs":"5","tokens":66.0,"loss":2.562},{"epochs":"5","tokens":70.0,"loss":2.54},{"epochs":"5","tokens":75.0,"loss":2.522},{"epochs":"5","tokens":80.0,"loss":2.508},{"epochs":"5","tokens":85.0,"loss":2.494},{"epochs":"5","tokens":90.4,"loss":2.476},{"epochs":"5","tokens":95.0,"loss":2.465},{"epochs":"5","tokens":100.0,"loss":2.455},{"epochs":"5","tokens":104.0,"loss":2.449},{"epochs":"5","tokens":108.0,"loss":2.443},{"epochs":"5","tokens":112.0,"loss":2.437},{"epochs":"5","tokens":116.0,"loss":2.431},{"epochs":"5","tokens":120.5,"loss":2.425},{"epochs":"5","tokens":125.6,"loss":2.418},{"epochs":"5","tokens":130.7,"loss":2.409},{"epochs":"5","tokens":135.9,"loss":2.404},{"epochs":"5","tokens":139.7,"loss":2.395},{"epochs":"5","tokens":144.0,"loss":2.39},{"epochs":"5","tokens":148.7,"loss":2.386},{"epochs":"5","tokens":153.0,"loss":2.38},{"epochs":"5","tokens":157.6,"loss":2.375},{"epochs":"5","tokens":162.7,"loss":2.369},{"epochs":"5","tokens":167.0,"loss":2.366},{"epochs":"5","tokens":173.0,"loss":2.363},{"epochs":"5","tokens":178.1,"loss":2.362},
{"epochs":"7","tokens":15.2,"loss":3.58},{"epochs":"7","tokens":19.3,"loss":3.304},{"epochs":"7","tokens":24.5,"loss":3.132},{"epochs":"7","tokens":28.7,"loss":2.976},{"epochs":"7","tokens":31.1,"loss":3.36},{"epochs":"7","tokens":34.7,"loss":3.21},{"epochs":"7","tokens":37.9,"loss":3.075},{"epochs":"7","tokens":41.0,"loss":2.953},{"epochs":"7","tokens":43.6,"loss":2.936},{"epochs":"7","tokens":47.2,"loss":2.834},{"epochs":"7","tokens":51.3,"loss":2.788},{"epochs":"7","tokens":56.5,"loss":2.711},{"epochs":"7","tokens":60.6,"loss":2.652},{"epochs":"7","tokens":64.0,"loss":2.61},{"epochs":"7","tokens":67.8,"loss":2.584},{"epochs":"7","tokens":73.0,"loss":2.555},{"epochs":"7","tokens":79.1,"loss":2.533},{"epochs":"7","tokens":85.0,"loss":2.512},{"epochs":"7","tokens":91.5,"loss":2.496},{"epochs":"7","tokens":99.0,"loss":2.478},{"epochs":"7","tokens":106.9,"loss":2.459},{"epochs":"7","tokens":112.0,"loss":2.45},{"epochs":"7","tokens":117.2,"loss":2.447},{"epochs":"7","tokens":120.5,"loss":2.443},{"epochs":"7","tokens":125.6,"loss":2.429},{"epochs":"7","tokens":130.7,"loss":2.419},{"epochs":"7","tokens":135.9,"loss":2.417},{"epochs":"7","tokens":139.7,"loss":2.405},{"epochs":"7","tokens":148.7,"loss":2.4},{"epochs":"7","tokens":157.6,"loss":2.39},{"epochs":"7","tokens":162.7,"loss":2.381},{"epochs":"7","tokens":173.0,"loss":2.379},{"epochs":"7","tokens":178.1,"loss":2.379},
{"epochs":"14","tokens":14.2,"loss":3.58},{"epochs":"14","tokens":19.3,"loss":3.285},{"epochs":"14","tokens":24.1,"loss":3.12},{"epochs":"14","tokens":28.7,"loss":2.976},{"epochs":"14","tokens":31.5,"loss":2.882},{"epochs":"14","tokens":37.5,"loss":2.874},{"epochs":"14","tokens":41.6,"loss":2.806},{"epochs":"14","tokens":45.0,"loss":2.745},{"epochs":"14","tokens":48.3,"loss":2.709},{"epochs":"14","tokens":51.8,"loss":2.672},{"epochs":"14","tokens":55.4,"loss":2.635},{"epochs":"14","tokens":58.5,"loss":2.62},{"epochs":"14","tokens":62.6,"loss":2.609},{"epochs":"14","tokens":67.8,"loss":2.578},{"epochs":"14","tokens":71.8,"loss":2.567},{"epochs":"14","tokens":76.0,"loss":2.555},{"epochs":"14","tokens":81.2,"loss":2.547},{"epochs":"14","tokens":86.0,"loss":2.535},{"epochs":"14","tokens":91.5,"loss":2.518},{"epochs":"14","tokens":96.0,"loss":2.51},{"epochs":"14","tokens":101.7,"loss":2.501},{"epochs":"14","tokens":106.9,"loss":2.496},{"epochs":"14","tokens":113.5,"loss":2.494},{"epochs":"14","tokens":119.9,"loss":2.491},{"epochs":"14","tokens":126.9,"loss":2.477},{"epochs":"14","tokens":130.7,"loss":2.472},{"epochs":"14","tokens":136.5,"loss":2.472},{"epochs":"14","tokens":140.3,"loss":2.462},{"epochs":"14","tokens":148.7,"loss":2.462},{"epochs":"14","tokens":155.0,"loss":2.458},{"epochs":"14","tokens":160.2,"loss":2.456},{"epochs":"14","tokens":167.9,"loss":2.455},{"epochs":"14","tokens":174.3,"loss":2.456},{"epochs":"14","tokens":178.1,"loss":2.453},
{"epochs":"44","tokens":13.8,"loss":3.58},{"epochs":"44","tokens":18.0,"loss":3.362},{"epochs":"44","tokens":21.3,"loss":3.237},{"epochs":"44","tokens":24.1,"loss":3.164},{"epochs":"44","tokens":27.2,"loss":3.118},{"epochs":"44","tokens":30.8,"loss":3.044},{"epochs":"44","tokens":35.9,"loss":2.953},{"epochs":"44","tokens":40.0,"loss":2.905},{"epochs":"44","tokens":43.5,"loss":2.875},{"epochs":"44","tokens":47.2,"loss":2.837},{"epochs":"44","tokens":51.3,"loss":2.825},{"epochs":"44","tokens":56.5,"loss":2.811},{"epochs":"44","tokens":60.1,"loss":2.805},{"epochs":"44","tokens":62.6,"loss":2.808},{"epochs":"44","tokens":66.8,"loss":2.801},{"epochs":"44","tokens":70.6,"loss":2.811},{"epochs":"44","tokens":72.9,"loss":2.814},{"epochs":"44","tokens":75.7,"loss":2.826},{"epochs":"44","tokens":78.1,"loss":2.831},{"epochs":"44","tokens":83.4,"loss":2.847},{"epochs":"44","tokens":87.3,"loss":2.857},{"epochs":"44","tokens":91.5,"loss":2.859},{"epochs":"44","tokens":95.6,"loss":2.874},{"epochs":"44","tokens":98.6,"loss":2.879},{"epochs":"44","tokens":103.8,"loss":2.898},{"epochs":"44","tokens":107.0,"loss":2.91},{"epochs":"44","tokens":109.6,"loss":2.922},{"epochs":"44","tokens":114.7,"loss":2.939},{"epochs":"44","tokens":119.9,"loss":2.958},{"epochs":"44","tokens":125.6,"loss":2.974},{"epochs":"44","tokens":129.5,"loss":2.984},{"epochs":"44","tokens":132.0,"loss":2.998},{"epochs":"44","tokens":136.5,"loss":3.012},{"epochs":"44","tokens":139.7,"loss":3.017},{"epochs":"44","tokens":144.2,"loss":3.033},{"epochs":"44","tokens":149.3,"loss":3.054},{"epochs":"44","tokens":153.1,"loss":3.065},{"epochs":"44","tokens":157.6,"loss":3.077},{"epochs":"44","tokens":161.5,"loss":3.084},{"epochs":"44","tokens":165.3,"loss":3.094},{"epochs":"44","tokens":168.5,"loss":3.103},{"epochs":"44","tokens":172.3,"loss":3.108},{"epochs":"44","tokens":175.5,"loss":3.12},{"epochs":"44","tokens":178.1,"loss":3.122}
],
"rules": [
{"row":0,"kind":"outer"},{"row":2,"kind":"inner"},{"row":6,"kind":"outer"}
],
"cells": [
{"row":1,"col":1,"text":"FLOP budget (C)"},{"row":1,"col":2,"text":"Parameters (N)"},{"row":1,"col":3,"text":"Training tokens (D)"},
{"row":3,"col":2,"text":"2.8B"},{"row":3,"col":3,"text":"55B"},{"row":3,"col":4,"text":"{ 55, 28, 18, 14, 11, 9, 4, 1.25}B"},
{"row":4,"col":2,"text":"4.2B"},{"row":4,"col":3,"text":"84B"},{"row":4,"col":4,"text":"{ 84, 42, 28, 21, 17, 12, 6, 1.9}B"},
{"row":5,"col":2,"text":"8.7B"},{"row":5,"col":3,"text":"178B"},{"row":5,"col":4,"text":"{178, 88, 58, 44, 35, 25, 13, 4}B"}
],
"powers": [
{"row":3,"col":1,"base":"9.3 × 10","exponent":"20"},
{"row":4,"col":1,"base":"2.1 × 10","exponent":"21"},
{"row":5,"col":1,"base":"9.3 × 10","exponent":"21"}
],
"subscripts": [
{"row":1,"col":4,"base":"Data budget (D","sub":"C","close":")"}
]
},
"vconcat": [
 {
  "hconcat": [
   {
    "data": {"name": "p1"},
    "width": 596, "height": 699,
    "title": {"text": ["2.8B parameters trained", "for 55B tokens"]},
    "mark": {"type": "line", "clip": true, "strokeWidth": 2.5, "strokeJoin": "round"},
    "encoding": {
     "x": {"field": "tokens", "type": "quantitative", "scale": {"domain": [-0.1, 59.6], "nice": false, "zero": false}, "axis": {"values": [5, 15, 25, 35, 45, 55], "labelExpr": "datum.value + 'B'", "title": "Training tokens"}},
     "y": {"field": "loss", "type": "quantitative", "scale": {"domain": [2.316, 3.507], "nice": false, "zero": false}, "axis": {"values": [2.4, 2.6, 2.8, 3.0, 3.2, 3.4], "format": ".1f", "title": "Validation loss"}},
     "color": {"field": "epochs", "type": "nominal", "title": "Epochs", "scale": {"domain": ["1", "2", "3", "4", "5", "7", "14", "44"], "range": ["#f4c736", "#efb43a", "#e8a239", "#dc7f38", "#cf5b33", "#b3171c", "#5e0b1f", "#0c0c24"]}}
    }
   },
   {
    "data": {"name": "p2"},
    "width": 600, "height": 699,
    "title": {"text": ["4.2B parameters trained", "for 84B tokens"]},
    "mark": {"type": "line", "clip": true, "strokeWidth": 2.5, "strokeJoin": "round"},
    "encoding": {
     "x": {"field": "tokens", "type": "quantitative", "scale": {"domain": [0, 90], "nice": false, "zero": false}, "axis": {"values": [5, 25, 45, 65, 85], "labelExpr": "datum.value + 'B'", "title": "Training tokens"}},
     "y": {"field": "loss", "type": "quantitative", "scale": {"domain": [2.316, 3.507], "nice": false, "zero": false}, "axis": {"values": [2.4, 2.6, 2.8, 3.0, 3.2, 3.4], "labels": false, "title": null}},
     "color": {"field": "epochs", "type": "nominal", "title": "Epochs", "scale": {"domain": ["1", "2", "3", "4", "5", "7", "14", "44"], "range": ["#f4c736", "#efb43a", "#e8a239", "#dc7f38", "#cf5b33", "#b3171c", "#5e0b1f", "#0c0c24"]}}
    }
   },
   {
    "data": {"name": "p3"},
    "width": 600, "height": 699,
    "title": {"text": ["8.7B parameters trained", "for 178B tokens"]},
    "mark": {"type": "line", "clip": true, "strokeWidth": 2.5, "strokeJoin": "round"},
    "encoding": {
     "x": {"field": "tokens", "type": "quantitative", "scale": {"domain": [-0.1, 185.1], "nice": false, "zero": false}, "axis": {"values": [5, 40, 100, 140, 180], "labelExpr": "datum.value + 'B'", "title": "Training tokens"}},
     "y": {"field": "loss", "type": "quantitative", "scale": {"domain": [2.316, 3.507], "nice": false, "zero": false}, "axis": {"values": [2.4, 2.6, 2.8, 3.0, 3.2, 3.4], "labels": false, "title": null}},
     "color": {"field": "epochs", "type": "nominal", "title": "Epochs", "scale": {"domain": ["1", "2", "3", "4", "5", "7", "14", "44"], "range": ["#f4c736", "#efb43a", "#e8a239", "#dc7f38", "#cf5b33", "#b3171c", "#5e0b1f", "#0c0c24"]}}
    }
   }
  ],
  "spacing": 52
 },
 {
  "width": 1914, "height": 287,
  "layer": [
   {
    "data": {"name": "rules"},
    "transform": [{"filter": "datum.kind === 'outer'"}],
    "mark": {"type": "rule", "strokeWidth": 4.5, "color": "#000000"},
    "encoding": {
     "x": {"datum": 0, "type": "quantitative", "scale": {"domain": [0, 1, 2, 3, 4, 5], "range": [-80, 133, 536, 964, 1561, 1923], "nice": false, "zero": false}, "axis": null},
     "x2": {"datum": 5},
     "y": {"field": "row", "type": "quantitative", "scale": {"domain": [0, 1, 2, 3, 4, 5, 6], "range": [0, 41, 85, 128, 186, 244, 287], "nice": false, "zero": false}, "axis": null}
    }
   },
   {
    "data": {"name": "rules"},
    "transform": [{"filter": "datum.kind === 'inner'"}],
    "mark": {"type": "rule", "strokeWidth": 2.6, "color": "#000000"},
    "encoding": {
     "x": {"datum": 0, "type": "quantitative", "axis": null},
     "x2": {"datum": 5},
     "y": {"field": "row", "type": "quantitative", "axis": null}
    }
   },
   {
    "data": {"name": "cells"},
    "mark": {"type": "text", "font": "Liberation Serif", "fontSize": 51, "baseline": "middle", "align": "center", "color": "#000000"},
    "encoding": {
     "x": {"field": "col", "type": "quantitative", "axis": null},
     "y": {"field": "row", "type": "quantitative", "axis": null},
     "text": {"field": "text"}
    }
   },
   {
    "data": {"name": "powers"},
    "mark": {"type": "text", "font": "Liberation Serif", "fontSize": 51, "baseline": "middle", "align": "right", "dx": 67, "color": "#000000"},
    "encoding": {
     "x": {"field": "col", "type": "quantitative", "axis": null},
     "y": {"field": "row", "type": "quantitative", "axis": null},
     "text": {"field": "base"}
    }
   },
   {
    "data": {"name": "powers"},
    "mark": {"type": "text", "font": "Liberation Serif", "fontSize": 34, "baseline": "middle", "align": "left", "dx": 69, "dy": -19, "color": "#000000"},
    "encoding": {
     "x": {"field": "col", "type": "quantitative", "axis": null},
     "y": {"field": "row", "type": "quantitative", "axis": null},
     "text": {"field": "exponent"}
    }
   },
   {
    "data": {"name": "subscripts"},
    "mark": {"type": "text", "font": "Liberation Serif", "fontSize": 51, "baseline": "middle", "align": "right", "dx": 137, "color": "#000000"},
    "encoding": {
     "x": {"field": "col", "type": "quantitative", "axis": null},
     "y": {"field": "row", "type": "quantitative", "axis": null},
     "text": {"field": "base"}
    }
   },
   {
    "data": {"name": "subscripts"},
    "mark": {"type": "text", "font": "Liberation Serif", "fontSize": 34, "fontStyle": "italic", "baseline": "middle", "align": "left", "dx": 138, "dy": 10, "color": "#000000"},
    "encoding": {
     "x": {"field": "col", "type": "quantitative", "axis": null},
     "y": {"field": "row", "type": "quantitative", "axis": null},
     "text": {"field": "sub"}
    }
   },
   {
    "data": {"name": "subscripts"},
    "mark": {"type": "text", "font": "Liberation Serif", "fontSize": 51, "baseline": "middle", "align": "left", "dx": 162, "color": "#000000"},
    "encoding": {
     "x": {"field": "col", "type": "quantitative", "axis": null},
     "y": {"field": "row", "type": "quantitative", "axis": null},
     "text": {"field": "close"}
    }
   }
  ]
 }
],
"spacing": 31,
"resolve": {"scale": {"color": "independent"}, "legend": {"color": "independent"}}
}
